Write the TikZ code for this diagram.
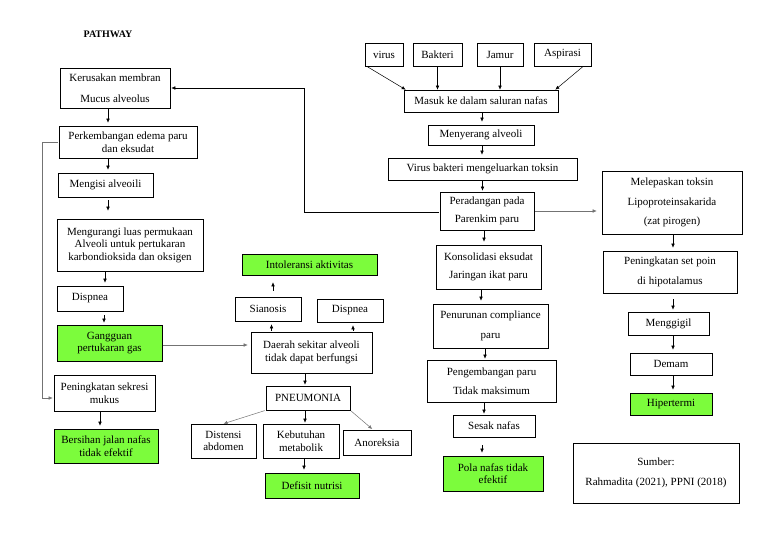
\documentclass[tikz,border=0pt]{standalone}
\usepackage{fontspec}
\setmainfont{Liberation Serif}
\usetikzlibrary{arrows.meta,calc}
\definecolor{limefill}{RGB}{124,252,60}
\begin{document}
\begin{tikzpicture}[x=1pt,y=-1pt,
  bx/.style={draw, line width=0.6pt, inner sep=0pt, align=center, font=\fontsize{11}{12.5}\selectfont},
  gbx/.style={bx, fill=limefill},
  bb/.style n args={4}{at={({(#1+#3)/2},{(#2+#4)/2})}, minimum width={#3-#1}, minimum height={#4-#2}},
  arr/.style={line width=0.5pt, -{Latex[length=4pt,width=3.5pt]}, shorten <=1pt, shorten >=3pt},
  garr/.style={arr, draw=black!55}]
\useasboundingbox (0,0) rectangle (768,543);

\node[font=\bfseries\fontsize{10}{12}\selectfont] (title) at (108,34) {PATHWAY};

% left column
\node[bx, bb={60}{68}{170}{108}] (kerusakan) {Kerusakan membran\\[8pt]Mucus alveolus};
\node[bx, bb={59}{126}{197}{158}] (perkembangan) {Perkembangan edema paru\\dan eksudat};
\node[bx, bb={58}{173}{153}{197}] (mengisi) {Mengisi alveoili};
\node[bx, bb={57}{219}{203}{271}] (mengurangi) {Mengurangi luas permukaan\\Alveoli untuk pertukaran\\karbondioksida dan oksigen};
\node[bx, bb={57}{286}{123}{311}] (dispneaA) {Dispnea};
\node[gbx, bb={57}{325}{162}{361}] (gangguan) {Gangguan\\pertukaran gas};
\node[bx, bb={54}{375}{155}{411}] (sekresi) {Peningkatan sekresi\\mukus};
\node[gbx, bb={54}{429}{158}{463}] (bersihan) {Bersihan jalan nafas\\tidak efektif};

% middle
\node[gbx, bb={242}{254}{377}{275}] (intoleransi) {Intoleransi aktivitas};
\node[bx, bb={235}{297}{301}{321}] (sianosis) {Sianosis};
\node[bx, bb={317}{299}{383}{322}] (dispneaB) {Dispnea};
\node[bx, bb={251}{332}{372}{373}] (daerah) {Daerah sekitar alveoli\\tidak dapat berfungsi};
\node[bx, bb={266}{386}{350}{410}] (pneumonia) {PNEUMONIA};
\node[bx, bb={191}{424}{256}{458}] (distensi) {Distensi\\abdomen};
\node[bx, bb={263}{424}{339}{458}] (kebutuhan) {Kebutuhan\\metabolik};
\node[bx, bb={343}{430}{411}{455}] (anoreksia) {Anoreksia};
\node[gbx, bb={265}{473}{359}{498}] (defisit) {Defisit nutrisi};

% right-middle column
\node[bx, bb={365}{43}{403}{66}] (virus) {virus};
\node[bx, bb={413}{43}{462}{66}] (bakteri) {Bakteri};
\node[bx, bb={477}{43}{523}{66}] (jamur) {Jamur};
\node[bx, bb={534}{43}{591}{66}] (aspirasi) {Aspirasi};
\node[bx, bb={404}{90}{558}{112}] (masuk) {Masuk ke dalam saluran nafas};
\node[bx, bb={428}{125}{534}{145}] (menyerang) {Menyerang alveoli};
\node[bx, bb={388}{158}{577}{180}] (virusb) {Virus bakteri mengeluarkan toksin};
\node[bx, bb={440}{192}{534}{230}] (peradangan) {Peradangan pada\\[6pt]Parenkim paru};
\node[bx, bb={436}{245}{541}{289}] (konsolidasi) {Konsolidasi eksudat\\[6pt]Jaringan ikat paru};
\node[bx, bb={433}{304}{548}{348}] (penurunan) {Penurunan compliance\\[8pt]paru};
\node[bx, bb={427}{360}{556}{402}] (pengembangan) {Pengembangan paru\\[6pt]Tidak maksimum};
\node[bx, bb={453}{415}{535}{437}] (sesak) {Sesak nafas};
\node[gbx, bb={443}{456}{543}{491}] (pola) {Pola nafas tidak\\efektif};

% right column
\node[bx, bb={602}{171}{742}{234}] (melepaskan) {Melepaskan toksin\\[7pt]Lipoproteinsakarida\\[7pt](zat pirogen)};
\node[bx, bb={603}{251}{737}{293}] (setpoin) {Peningkatan set poin\\[8pt]di hipotalamus};
\node[bx, bb={628}{312}{709}{335}] (menggigil) {Menggigil};
\node[bx, bb={630}{353}{712}{375}] (demam) {Demam};
\node[gbx, bb={630}{393}{712}{415}] (hipertermi) {Hipertermi};
\node[bx, bb={573}{443}{739}{503}] (sumber) {Sumber:\\[7pt]Rahmadita (2021), PPNI (2018)};

% connectors: left column
\draw[arr] ([xshift=-7pt]kerusakan.south) -- ([xshift=-7pt]kerusakan.south |- perkembangan.north);
\draw[arr] ([xshift=-20pt]perkembangan.south) -- ([xshift=-20pt]perkembangan.south |- mengisi.north);
\draw[arr, shorten <=3pt, shorten >=8pt] ([xshift=2.5pt]mengisi.south) -- ([xshift=2.5pt]mengisi.south |- mengurangi.north);
\draw[arr] ([xshift=-25pt]mengurangi.south) -- ([xshift=-25pt]mengurangi.south |- dispneaA.north);
\draw[arr, shorten <=4pt, shorten >=2pt] ([xshift=14pt]dispneaA.south) -- ([xshift=14pt]dispneaA.south |- gangguan.north);
\draw[arr] ([xshift=-4.5pt]sekresi.south) -- ([xshift=-4.5pt]sekresi.south |- bersihan.north);
\coordinate (lft) at (42,142);
\draw[garr, shorten >=1pt] (perkembangan.west) -- (lft) |- ([yshift=-5pt]sekresi.west);

% middle connectors
\draw[garr] ([yshift=-2pt]gangguan.east) -- ([yshift=-2pt]gangguan.east -| daerah.west);
\draw[arr] ([xshift=-40pt]daerah.north) -- ([xshift=-40pt]daerah.north |- sianosis.south);
\draw[arr] ([xshift=41.5pt]daerah.north) -- ([xshift=41.5pt]daerah.north |- dispneaB.south);
\draw[arr, shorten <=6pt, shorten >=7pt] ([xshift=5pt]sianosis.north) -- ([xshift=5pt]sianosis.north |- intoleransi.south);
\draw[arr, shorten >=1pt] ([xshift=-6.5pt]daerah.south) -- ([xshift=-6.5pt]daerah.south |- pneumonia.north);
\draw[garr, shorten >=0pt] (pneumonia.south west) -- (distensi.north);
\draw[arr, shorten >=1pt] ([xshift=-3pt]pneumonia.south) -- ([xshift=-3pt]pneumonia.south |- kebutuhan.north);
\draw[garr, shorten >=1pt] (pneumonia.south east) -- ([xshift=-4pt]anoreksia.north);
\draw[arr] ([xshift=3pt]kebutuhan.south) -- ([xshift=3pt]kebutuhan.south |- defisit.north);

% right-middle connectors
\draw[arr, shorten >=0pt] ([xshift=2pt]virus.south west) -- ([xshift=2pt]masuk.north west);
\draw[arr, shorten >=0pt] (bakteri.south) -- (bakteri.south |- masuk.north);
\draw[arr, shorten >=0pt] (jamur.south) -- (jamur.south |- masuk.north);
\draw[arr, shorten >=0pt] ([xshift=-8pt]aspirasi.south east) -- ([xshift=-3pt]masuk.north east);
\draw[arr] ([xshift=1pt]masuk.south) -- ([xshift=1pt]masuk.south |- menyerang.north);
\draw[arr] ([xshift=1pt]menyerang.south) -- ([xshift=1pt]menyerang.south |- virusb.north);
\draw[arr, shorten >=1pt] (virusb.south) -- (virusb.south |- peradangan.north);
\draw[arr] ([xshift=-3pt]peradangan.south) -- ([xshift=-3pt]peradangan.south |- konsolidasi.north);
\draw[arr] ([xshift=-7.5pt]konsolidasi.south) -- ([xshift=-7.5pt]konsolidasi.south |- penurunan.north);
\draw[arr, shorten >=1pt] ([xshift=-5.5pt]penurunan.south) -- ([xshift=-5.5pt]penurunan.south |- pengembangan.north);
\draw[arr, shorten >=1pt] ([xshift=-7.5pt]pengembangan.south) -- ([xshift=-7.5pt]pengembangan.south |- sesak.north);
\draw[arr, shorten <=8pt] ([xshift=-12pt]sesak.south) -- ([xshift=-12pt]sesak.south |- pola.north);
\coordinate (bend) at (304,212);
\draw[arr, shorten >=1pt] ([yshift=-1pt]peradangan.west) -- (bend) |- (kerusakan.east);
\draw[garr, shorten >=5pt] (peradangan.east) -- (peradangan.east -| melepaskan.west);

% right column connectors
\draw[arr] ([xshift=1pt]melepaskan.south) -- ([xshift=1pt]melepaskan.south |- setpoin.north);
\draw[arr, shorten <=6pt, shorten >=2pt] ([xshift=3pt]setpoin.south) -- ([xshift=3pt]setpoin.south |- menggigil.north);
\draw[arr] ([xshift=4.5pt]menggigil.south) -- ([xshift=4.5pt]menggigil.south |- demam.north);
\draw[arr] ([xshift=2pt]demam.south) -- ([xshift=2pt]demam.south |- hipertermi.north);
\end{tikzpicture}
\end{document}
